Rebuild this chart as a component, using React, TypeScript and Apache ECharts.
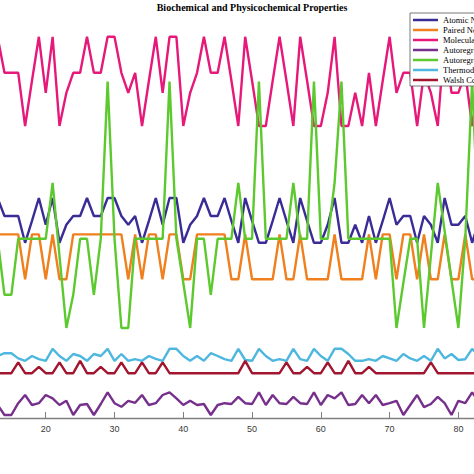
import { useEffect, useRef } from "react";
import * as echarts from "echarts";

// Sequence positions 13..83 (the plot window shows roughly 13.3 to 82.3)
const positions = Array.from({ length: 71 }, (_, k) => 13 + k);
const xTicks = [20, 30, 40, 50, 60, 70, 80];

const atomicNumber = [
  55.0, 50.5, 50.5, 50.5, 43.8, 49.3, 55.0, 48.3, 55.0, 43.8,
  48.3, 50.5, 50.5, 55.0, 50.5, 50.5, 55.0, 55.0, 50.5, 48.3,
  50.5, 43.8, 49.3, 55.0, 48.3, 55.0, 55.0, 43.8, 48.3, 50.5,
  55.0, 50.5, 50.5, 55.0, 49.3, 43.8, 55.0, 49.3, 43.8, 43.8,
  49.3, 55.0, 49.3, 43.8, 55.0, 49.3, 43.8, 43.8, 48.3, 55.0,
  43.8, 43.8, 48.3, 43.8, 50.5, 43.8, 49.3, 55.0, 48.3, 50.5,
  50.5, 43.8, 50.5, 48.3, 43.8, 55.0, 48.3, 48.3, 50.5, 43.8,
  49.3,
];

const pairedNeighbor = [
  45.9, 45.9, 45.9, 45.9, 34.7, 45.9, 45.9, 34.7, 45.9, 34.7,
  34.7, 45.9, 45.9, 45.9, 45.9, 45.9, 45.9, 45.9, 45.9, 34.7,
  45.9, 34.7, 45.9, 45.9, 34.7, 45.9, 45.9, 34.7, 34.7, 45.9,
  45.9, 45.9, 45.9, 45.9, 34.7, 34.7, 45.9, 34.7, 34.7, 34.7,
  34.7, 45.9, 34.7, 34.7, 45.9, 34.7, 34.7, 34.7, 34.7, 45.9,
  34.7, 34.7, 34.7, 34.7, 45.9, 34.7, 45.9, 45.9, 34.7, 45.9,
  45.9, 34.7, 45.9, 34.7, 34.7, 45.9, 34.7, 34.7, 45.9, 34.7,
  34.7,
];

const molecularWeight = [
  95.3, 86.3, 86.3, 86.3, 73.0, 84.3, 95.3, 81.3, 95.3, 73.0,
  81.3, 86.3, 86.3, 95.3, 86.3, 86.3, 95.3, 95.3, 86.3, 81.3,
  86.3, 73.0, 84.3, 95.3, 81.3, 95.3, 95.3, 73.0, 81.3, 86.3,
  95.3, 86.3, 86.3, 95.3, 84.3, 73.0, 95.3, 84.3, 73.0, 73.0,
  84.3, 95.3, 84.3, 73.0, 95.3, 84.3, 73.0, 73.0, 81.3, 95.3,
  73.0, 73.0, 81.3, 73.0, 86.3, 73.0, 84.3, 95.3, 81.3, 86.3,
  86.3, 73.0, 86.3, 81.3, 73.0, 95.3, 81.3, 81.3, 86.3, 73.0,
  84.3,
];

const autoregMoran = [
  3.3, 0.75, 0.75, 3.7, 5.75, 3.25, 3.7, 5.75, 4.9, 3.25,
  4.3, 0.75, 3.25, 3.5, 0.75, 3.5, 6.4, 3.7, 2.8, 4.3,
  3.8, 5.75, 3.25, 3.7, 5.75, 6.4, 4.9, 3.25, 4.3, 3.25,
  3.5, 0.75, 3.25, 3.7, 3.5, 5.3, 3.7, 3.5, 6.4, 3.25,
  5.75, 3.7, 3.5, 5.3, 3.7, 3.5, 6.4, 3.25, 5.75, 4.9,
  6.4, 3.25, 3.5, 5.75, 3.7, 5.75, 3.25, 3.7, 4.3, 0.75,
  3.25, 5.75, 2.7, 3.5, 5.3, 3.7, 0.75, 4.3, 3.7, 6.4,
  4.0,
];

const autoregGeary = [
  44.8, 30.8, 30.8, 44.8, 44.8, 44.8, 44.8, 44.8, 58.8, 40.5,
  22.5, 30.8, 44.8, 44.8, 30.8, 44.8, 84.1, 44.8, 22.5, 22.5,
  44.8, 44.8, 44.8, 44.8, 44.8, 84.1, 44.8, 33.8, 22.5, 44.8,
  44.8, 30.8, 44.8, 44.8, 44.8, 58.8, 44.8, 44.8, 84.1, 44.8,
  44.8, 44.8, 44.8, 58.8, 44.8, 44.8, 84.1, 44.8, 44.8, 58.8,
  84.1, 44.8, 44.8, 44.8, 44.8, 44.8, 44.8, 44.8, 22.5, 33.8,
  44.8, 44.8, 22.5, 40.5, 58.8, 46.8, 34.5, 22.5, 44.8, 84.1,
  44.8,
];

const thermodynamic = [
  15.5, 16.2, 16.2, 14.9, 14.3, 15.5, 14.7, 14.3, 17.3, 15.5,
  14.3, 16.0, 15.5, 14.3, 16.0, 15.5, 17.3, 14.3, 16.0, 14.3,
  14.7, 14.3, 15.5, 14.8, 14.3, 17.3, 17.3, 15.5, 14.3, 15.5,
  14.3, 16.2, 15.5, 14.7, 14.3, 17.3, 14.5, 14.3, 17.3, 15.5,
  14.3, 14.7, 14.3, 17.3, 14.7, 14.3, 17.3, 15.5, 14.3, 17.3,
  17.3, 16.0, 14.3, 14.3, 14.7, 14.3, 15.5, 14.9, 14.3, 16.0,
  14.9, 14.3, 15.5, 14.3, 17.3, 14.9, 16.0, 14.5, 14.7, 17.3,
  15.5,
];

const walshCoefficient = [
  11.2, 11.2, 11.2, 13.9, 11.2, 11.2, 12.8, 11.2, 11.2, 13.9,
  11.2, 11.2, 14.3, 11.2, 11.2, 12.8, 11.2, 11.2, 13.9, 11.2,
  11.2, 13.9, 11.2, 11.2, 13.9, 11.2, 11.2, 11.2, 11.2, 11.2,
  11.2, 11.2, 11.2, 11.2, 11.2, 11.2, 14.3, 11.2, 11.2, 11.2,
  11.2, 11.2, 13.9, 11.2, 11.2, 12.8, 11.2, 11.2, 13.9, 11.2,
  11.2, 14.3, 11.2, 11.2, 12.8, 11.2, 11.2, 11.2, 11.2, 11.2,
  11.2, 11.2, 11.2, 13.9, 11.2, 11.2, 11.2, 11.2, 11.2, 11.2,
  11.2,
];

const seriesDefs = [
  { name: "Atomic Number", color: "#3a2c96", values: atomicNumber },
  { name: "Paired Nearest Neighbor", color: "#f07f1e", values: pairedNeighbor },
  { name: "Molecular Weight", color: "#e6197a", values: molecularWeight },
  { name: "Autoregression (Moran)", color: "#76308c", values: autoregMoran },
  { name: "Autoregression (Geary)", color: "#5cc92e", values: autoregGeary },
  { name: "Thermodynamic", color: "#4eb7df", values: thermodynamic },
  { name: "Walsh Coefficient", color: "#a2152f", values: walshCoefficient },
];

export default function App() {
  const ref = useRef<HTMLDivElement>(null);

  useEffect(() => {
    const chart = echarts.init(ref.current!, null, { renderer: "svg" });
    chart.setOption({
      animation: false,
      backgroundColor: "#ffffff",
      graphic: [
        {
          type: "text",
          x: 252,
          y: 7,
          style: {
            text: "Biochemical and Physicochemical Properties",
            align: "center",
            verticalAlign: "middle",
            fontFamily: "Liberation Serif",
            fontWeight: "bold",
            fontSize: 10,
            fill: "#000",
          },
        },
      ],
      grid: { left: 0, right: 0, top: 18, bottom: 56 },
      xAxis: {
        type: "value",
        min: 13.35,
        max: 82.27,
        axisLine: { lineStyle: { color: "#7f7f7f", width: 1.3 } },
        axisTick: {
          inside: true,
          length: 6,
          customValues: xTicks,
          lineStyle: { color: "#7f7f7f", width: 1 },
        },
        axisLabel: {
          customValues: xTicks,
          fontSize: 9,
          color: "#3a3a3a",
          margin: 6,
          fontFamily: "Liberation Sans",
        },
        splitLine: { show: false },
      },
      yAxis: { type: "value", min: 0, max: 100, show: false },
      legend: {
        orient: "vertical",
        left: 410,
        top: 13,
        padding: [2, 3, 1, 3],
        itemGap: 0,
        itemWidth: 25,
        itemHeight: 2.5,
        icon: "rect",
        backgroundColor: "#ffffff",
        borderColor: "#555555",
        borderWidth: 0.8,
        textStyle: {
          fontFamily: "Liberation Serif",
          fontSize: 8.5,
          color: "#000",
          lineHeight: 10,
        },
        data: seriesDefs.map((s) => s.name),
      },
      series: seriesDefs.map((s) => ({
        name: s.name,
        type: "line",
        symbol: "none",
        clip: true,
        color: s.color,
        lineStyle: { color: s.color, width: 2.4 },
        data: positions.map((p, k) => [p, s.values[k]]),
      })),
    });
    return () => chart.dispose();
  }, []);

  return (
    <div
      ref={ref}
      style={{ position: "fixed", left: 0, top: 0, width: 474, height: 474, background: "#fff" }}
    />
  );
}
